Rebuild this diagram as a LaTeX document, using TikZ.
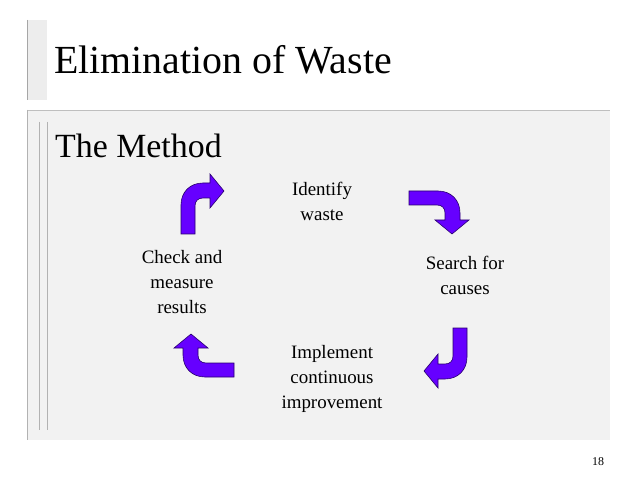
\documentclass[tikz,border=0pt]{standalone}
\usepackage{fontspec}
\setmainfont{Liberation Serif}
\begin{document}
\begin{tikzpicture}[x=1bp,y=-1bp,
  barr/.style={fill={rgb,255:red,102;green,0;blue,255},draw={rgb,255:red,40;green,0;blue,110},line width=0.6bp},
  lbl/.style={align=center,font=\fontsize{19}{25}\selectfont,inner sep=0}]
\useasboundingbox (0,0) rectangle (638,478);
\fill[white] (0,0) rectangle (638,478);
% title decoration
\fill[black!7] (27,20) rectangle (47,100);
\draw[black!35,line width=0.8bp] (27,20) -- (27,100);
% content panel
\fill[black!5] (27,110) rectangle (610,440);
\draw[black!25,line width=0.8bp] (27,110) -- (610,110);
\draw[black!30,line width=0.8bp] (27,110) -- (27,440);
\draw[black!30,line width=0.8bp] (39,122) -- (39,430);
\draw[black!30,line width=0.8bp] (47,122) -- (47,430);
\node[anchor=base west,font=\fontsize{40}{44}\selectfont,inner sep=0] (title) at (54,74) {Elimination of Waste};
\node[anchor=base west,font=\fontsize{34}{38}\selectfont,inner sep=0] (sub) at (55,158) {The Method};
\node[lbl] (id) at (322,201) {Identify\\waste};
\node[lbl] (se) at (465,275) {Search for\\causes};
\node[lbl] (ch) at (182,282) {Check and\\measure\\results};
\node[lbl] (im) at (332,379) {Implement\\continuous\\improvement};
\node[font=\fontsize{12}{14}\selectfont,inner sep=0] (pg) at (598,462) {18};
% arrows
\draw[barr] (181,234) -- (181,205) .. controls (181,192) and (190,183) .. (203,183) -- (210,183) -- (210,174) -- (224,191) -- (210,208) -- (210,198) -- (203,198) .. controls (198,198) and (195,201) .. (195,206) -- (195,234) -- cycle;
\draw[barr] (409,191) -- (438,191) .. controls (451,191) and (460,200) .. (460,213) -- (460,220) -- (469,220) -- (452,234) -- (435,220) -- (445,220) -- (445,213) .. controls (445,208) and (442,205) .. (437,205) -- (409,205) -- cycle;
\draw[barr] (467,328) -- (467,357) .. controls (467,370) and (458,379) .. (445,379) -- (438,379) -- (438,388) -- (424,371) -- (438,354) -- (438,364) -- (445,364) .. controls (450,364) and (453,361) .. (453,356) -- (453,328) -- cycle;
\draw[barr] (234,377) -- (205,377) .. controls (192,377) and (183,368) .. (183,355) -- (183,348) -- (174,348) -- (191,334) -- (208,348) -- (198,348) -- (198,355) .. controls (198,360) and (201,363) .. (206,363) -- (234,363) -- cycle;
\end{tikzpicture}
\end{document}
